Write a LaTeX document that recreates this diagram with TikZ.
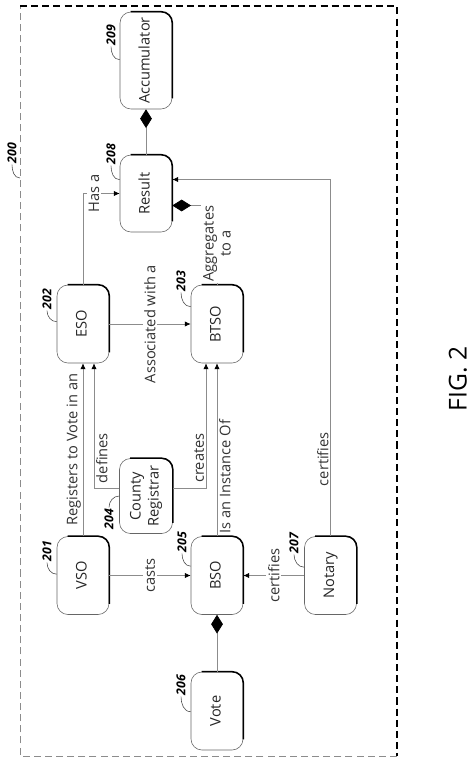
\documentclass[tikz,border=0pt]{standalone}
\usepackage{fontspec}
\setmainfont{Open Sans}
\usepackage{graphicx}
\usetikzlibrary{arrows.meta,calc}

\newcommand{\rtext}[1]{\rotatebox{90}{\begin{tabular}{@{}c@{}}#1\end{tabular}}}
% heavy top and right edge of a box
\newcommand{\boxedge}[1]{\draw[black, line width=1.3pt, rounded corners=0.33cm]
  ([xshift=0.33cm]#1.north west) -- (#1.north east) -- ([yshift=0.33cm]#1.south east);}

\begin{document}
\begin{tikzpicture}[x=0.03cm, y=-0.03cm,
    obj/.style={draw=black!60, line width=0.5pt, rounded corners=0.33cm, inner sep=0pt,
      minimum width=1.56cm, minimum height=2.34cm, text=black!85,
      font=\fontsize{12.5}{15.5}\selectfont},
    conn/.style={black!45, line width=0.6pt},
    tip/.style={-{Latex[length=5pt, width=4.5pt, color=black]}},
    dia/.style={{Diamond[length=16pt, width=10pt, color=black]}-},
    lbl/.style={rotate=90, text=black!80, inner sep=1.5pt, font=\fontsize{12.5}{14.5}\selectfont},
    onlbl/.style={lbl, fill=white},
    refno/.style={rotate=90, inner sep=1pt, font=\fontsize{10.5}{12}\bfseries\itshape\selectfont},
    lead/.style={black!70, line width=0.5pt}]
    \useasboundingbox (0,0) rectangle (474,761);
    % frame 200
    \draw[black!45, line width=0.6pt, dash pattern=on 6pt off 3.5pt] (397,756) -- (20,756) -- (20,6);
    \draw[black, line width=1.6pt, dash pattern=on 6pt off 3.5pt] (20,6) -- (397,6) -- (397,756);
    \coordinate (frameleft) at (20,178);

    % objects
    \node[obj, minimum height=2.91cm] (acc) at (146,60.5) {\rtext{Accumulator}};
    \node[obj, minimum height=2.31cm] (res) at (146,193.5) {\rtext{Result}};
    \node[obj] (eso) at (83,324) {\rtext{ESO}};
    \node[obj] (btso) at (217,324) {\rtext{BTSO}};
    \node[obj, minimum width=1.59cm, minimum height=2.25cm] (reg) at (146,496) {\rtext{County\\Registrar}};
    \node[obj] (vso) at (83,575.5) {\rtext{VSO}};
    \node[obj] (bso) at (217,575.5) {\rtext{BSO}};
    \node[obj] (vote) at (217,711) {\rtext{Vote}};
    \node[obj] (notary) at (330.5,575.5) {\rtext{Notary}};
    \foreach \n in {acc,res,eso,btso,reg,vso,bso,vote,notary}{\boxedge{\n}}

    % connectors
    \draw[conn, dia] (acc.south) -- (res.north);
    \draw[conn, tip] (eso.north) |- node[onlbl, pos=0.65] {Has a} (res.west);
    \draw[conn, tip] (eso.east) -- node[onlbl] {Associated with a} (btso.west);
    \draw[conn, tip] (vso.north) -- node[lbl, anchor=south] {Registers to Vote in an} (eso.south);
    \draw[conn, tip] ($(reg.west)+(0,-8)$) -| node[lbl, anchor=north, pos=0.62] {defines} ($(eso.south)+(11,0)$);
    \draw[conn, tip] ($(reg.east)+(0,-8)$) -| node[lbl, anchor=south, pos=0.62] {creates} ($(btso.south)+(-11,0)$);
    \draw[conn, tip] (bso.north) -- node[lbl, anchor=north, pos=0.345] {Is an Instance Of} (btso.south);
    \draw[conn, tip] (vso.east) -- node[onlbl] {casts} (bso.west);
    \draw[conn, dia] (bso.south) -- (vote.north);
    \draw[conn, tip] (notary.west) -- node[onlbl] {certifies} (bso.east);
    \draw[conn, tip] (notary.north) |- node[lbl, anchor=south, pos=0.108] {certifies} ($(res.east)+(0,-14)$);
    \draw[conn, dia] ($(res.east)+(0,12)$) -| node[onlbl, align=center, pos=0.74] {Aggregates\\to a} (btso.north);

    % reference numbers
    \node[refno] (n200) at (12,153) {200};
    \node[refno] (n209) at (111,35) {209};
    \node[refno] (n208) at (111,154) {208};
    \node[refno] (n202) at (47,299) {202};
    \node[refno] (n203) at (181,281) {203};
    \node[refno] (n204) at (109,519) {204};
    \node[refno] (n201) at (47,551) {201};
    \node[refno] (n205) at (182,542) {205};
    \node[refno] (n206) at (181,685) {206};
    \node[refno] (n207) at (294,543) {207};
    \draw[lead] (n200.west) to[out=-90, in=180] (frameleft);
    \draw[lead] (n209.west) to[out=-90, in=180] ($(acc.north west)+(0,48)$);
    \draw[lead] (n208.west) to[out=-90, in=180] ($(res.north west)+(0,25)$);
    \draw[lead] (n202.west) to[out=-90, in=180] ($(eso.north west)+(0,37)$);
    \draw[lead] (n203.west) to[out=-90, in=180] ($(btso.north west)+(0,22)$);
    \draw[lead] (n204.east) to[out=90, in=180] (reg.west);
    \draw[lead] (n201.west) to[out=-90, in=180] ($(vso.north west)+(0,38)$);
    \draw[lead] (n205.west) to[out=-90, in=180] ($(bso.north west)+(0,30)$);
    \draw[lead] (n206.west) to[out=-90, in=180] ($(vote.north west)+(0,40)$);
    \draw[lead] (n207.west) to[out=-90, in=180] ($(notary.north west)+(0,31)$);

    \node[rotate=90, font=\fontsize{21}{25}\selectfont] (fig) at (458,379) {FIG. 2};
\end{tikzpicture}
\end{document}
